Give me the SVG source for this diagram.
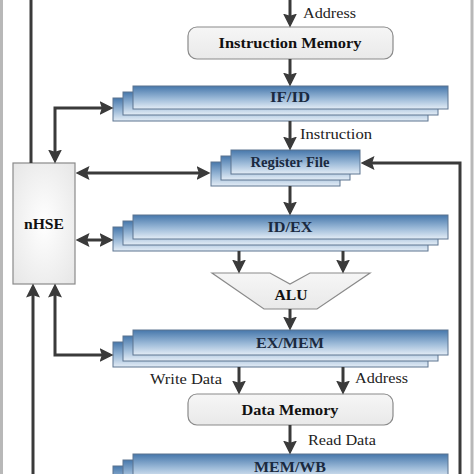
<svg xmlns="http://www.w3.org/2000/svg" width="474" height="474" viewBox="0 0 474 474">
<defs>
<linearGradient id="blue" x1="0" y1="0" x2="0" y2="1">
<stop offset="0" stop-color="#4677ab"/>
<stop offset="0.55" stop-color="#9cbad8"/>
<stop offset="1" stop-color="#e4edf6"/>
</linearGradient>
<linearGradient id="gray" x1="0" y1="0" x2="0" y2="1">
<stop offset="0" stop-color="#f6f6f6"/>
<stop offset="1" stop-color="#e9e9e9"/>
</linearGradient>
<radialGradient id="rg" cx="0.5" cy="0.5" r="0.7">
<stop offset="0" stop-color="#ffffff"/>
<stop offset="1" stop-color="#e6e6e6"/>
</radialGradient>
<marker id="ah" markerUnits="userSpaceOnUse" markerWidth="14" markerHeight="14" viewBox="0 0 12 12" refX="9" refY="6" orient="auto-start-reverse">
<path d="M0,0 L12,6 L0,12 L2,6 z" fill="#3a3a3a"/>
</marker>
</defs>
<style>
.st{fill:url(#blue);stroke:#5d7590;stroke-width:1}
.mem{fill:url(#gray);stroke:#8a8a8a;stroke-width:1.2}
.ln{fill:none;stroke:#3a3a3a;stroke-width:3}
.bl{font-family:"Liberation Serif",serif;font-weight:bold;font-size:15px;fill:#1b2a40;text-anchor:middle}
.bk{font-family:"Liberation Serif",serif;font-weight:bold;font-size:15px;fill:#111;text-anchor:middle}
.lb{font-family:"Liberation Serif",serif;font-size:14px;fill:#222}
.br{stroke:#b8b8b8;stroke-width:3}
</style>
<rect width="474" height="474" fill="#fff"/>
<line class="br" x1="1.5" y1="0" x2="1.5" y2="474"/>
<line class="br" x1="472" y1="0" x2="472" y2="474"/>

<g id="instruction-memory">
<rect class="mem" x="188" y="27" width="205" height="32" rx="9"/>
<text class="bk" x="290" y="48" textLength="143" lengthAdjust="spacingAndGlyphs">Instruction Memory</text>
</g>
<g id="if-id">
<rect class="st" x="113" y="98" width="315" height="23"/>
<rect class="st" x="123" y="92" width="315" height="23"/>
<rect class="st" x="133" y="86" width="315" height="23"/>
<text class="bl" x="290" y="102" textLength="40" lengthAdjust="spacingAndGlyphs">IF/ID</text>
</g>
<g id="register-file">
<rect class="st" x="211" y="162" width="129" height="24"/>
<rect class="st" x="221" y="156" width="129" height="24"/>
<rect class="st" x="231" y="150" width="129" height="24"/>
<text class="bl" x="290" y="167" font-size="14" textLength="79" lengthAdjust="spacingAndGlyphs">Register File</text>
</g>
<g id="id-ex">
<rect class="st" x="113" y="227" width="315" height="24"/>
<rect class="st" x="123" y="221" width="315" height="24"/>
<rect class="st" x="133" y="215" width="315" height="24"/>
<text class="bl" x="290" y="232" textLength="45" lengthAdjust="spacingAndGlyphs">ID/EX</text>
</g>
<g id="alu">
<path class="mem" d="M212,273 L270,273 L290,284 L310,273 L370,273 L317,309 L264,309 Z"/>
<text class="bk" x="291" y="300" textLength="33" lengthAdjust="spacingAndGlyphs">ALU</text>
</g>
<g id="ex-mem">
<rect class="st" x="113" y="342" width="315" height="25"/>
<rect class="st" x="123" y="336" width="315" height="25"/>
<rect class="st" x="133" y="330" width="315" height="25"/>
<text class="bl" x="290" y="348" textLength="68" lengthAdjust="spacingAndGlyphs">EX/MEM</text>
</g>
<g id="data-memory">
<rect class="mem" x="188" y="394" width="205" height="31" rx="9"/>
<text class="bk" x="290" y="415" textLength="97" lengthAdjust="spacingAndGlyphs">Data Memory</text>
</g>
<g id="mem-wb">
<rect class="st" x="113" y="466" width="315" height="25"/>
<rect class="st" x="123" y="460" width="315" height="25"/>
<rect class="st" x="133" y="454" width="315" height="25"/>
<text class="bl" x="290" y="472" textLength="72" lengthAdjust="spacingAndGlyphs">MEM/WB</text>
</g>
<g id="nhse">
<rect x="13" y="163" width="62" height="121" fill="url(#rg)" stroke="#8a8a8a" stroke-width="1.2"/>
<text class="bk" x="44" y="229" textLength="40" lengthAdjust="spacingAndGlyphs">nHSE</text>
</g>

<g id="connectors">
<line class="ln" x1="290" y1="0" x2="290" y2="24" marker-end="url(#ah)"/>
<line class="ln" x1="290" y1="59" x2="290" y2="83" marker-end="url(#ah)"/>
<line class="ln" x1="290" y1="121" x2="290" y2="147" marker-end="url(#ah)"/>
<line class="ln" x1="290" y1="186" x2="290" y2="212" marker-end="url(#ah)"/>
<line class="ln" x1="239" y1="251" x2="239" y2="270" marker-end="url(#ah)"/>
<line class="ln" x1="343" y1="251" x2="343" y2="270" marker-end="url(#ah)"/>
<line class="ln" x1="290" y1="309" x2="290" y2="327" marker-end="url(#ah)"/>
<line class="ln" x1="239" y1="367" x2="239" y2="391" marker-end="url(#ah)"/>
<line class="ln" x1="343" y1="367" x2="343" y2="391" marker-end="url(#ah)"/>
<line class="ln" x1="290" y1="425" x2="290" y2="451" marker-end="url(#ah)"/>
<path class="ln" d="M460,474 V163 H364" marker-end="url(#ah)"/>
<line class="ln" x1="31" y1="0" x2="31" y2="163"/>
<path class="ln" d="M55,160 V108 H110" marker-start="url(#ah)" marker-end="url(#ah)"/>
<path class="ln" d="M55,287 V355 H110" marker-start="url(#ah)" marker-end="url(#ah)"/>
<line class="ln" x1="33" y1="474" x2="33" y2="287" marker-end="url(#ah)"/>
<line class="ln" x1="79" y1="173" x2="207" y2="173" marker-start="url(#ah)" marker-end="url(#ah)"/>
<line class="ln" x1="79" y1="240" x2="110" y2="240" marker-start="url(#ah)" marker-end="url(#ah)"/>
</g>

<g id="labels">
<text class="lb" x="303" y="18" textLength="53" lengthAdjust="spacingAndGlyphs">Address</text>
<text class="lb" x="300" y="139" textLength="72" lengthAdjust="spacingAndGlyphs">Instruction</text>
<text class="lb" x="150" y="384" textLength="72" lengthAdjust="spacingAndGlyphs">Write Data</text>
<text class="lb" x="355" y="383" textLength="53" lengthAdjust="spacingAndGlyphs">Address</text>
<text class="lb" x="308" y="445" textLength="68" lengthAdjust="spacingAndGlyphs">Read Data</text>
</g>
</svg>
